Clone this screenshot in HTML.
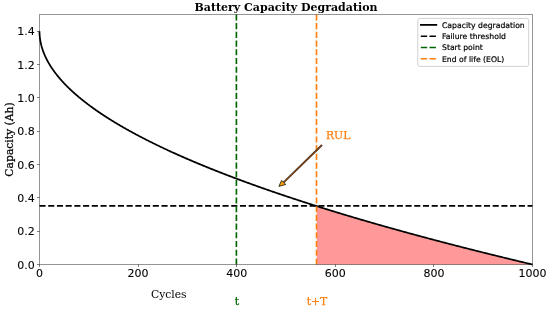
<!DOCTYPE html>
<html><head><meta charset="utf-8"><title>Battery Capacity Degradation</title><style>html,body{margin:0;padding:0;background:#fff;}
svg{display:block;}
.tk{font-family:"DejaVu Sans","Liberation Sans",sans-serif;font-size:11.0px;fill:#000;stroke:#000;stroke-width:0.08px;}
.lg{font-family:"DejaVu Sans","Liberation Sans",sans-serif;font-size:7.7px;fill:#000;stroke:#000;stroke-width:0.2px;}
.ttl{font-family:"DejaVu Serif","Liberation Serif",serif;font-weight:bold;font-size:11.0px;fill:#000;}
.lab{font-family:"DejaVu Serif","Liberation Serif",serif;font-size:10.75px;stroke-width:0.25px;}
</style></head><body>
<svg width="550" height="312" viewBox="0 0 550 312">
<rect width="550" height="312" fill="#fff"/>
<polygon points="316.81,264.50 316.81,206.17 317.89,206.51 318.97,206.85 320.05,207.18 321.13,207.52 322.20,207.86 323.28,208.20 324.36,208.53 325.44,208.87 326.52,209.20 327.60,209.54 328.68,209.87 329.75,210.20 330.83,210.54 331.91,210.87 332.99,211.20 334.07,211.53 335.15,211.86 336.22,212.19 337.30,212.52 338.38,212.84 339.46,213.17 340.54,213.50 341.62,213.83 342.69,214.15 343.77,214.48 344.85,214.80 345.93,215.12 347.01,215.45 348.09,215.77 349.17,216.09 350.24,216.42 351.32,216.74 352.40,217.06 353.48,217.38 354.56,217.70 355.64,218.02 356.71,218.33 357.79,218.65 358.87,218.97 359.95,219.29 361.03,219.60 362.11,219.92 363.19,220.23 364.26,220.55 365.34,220.86 366.42,221.18 367.50,221.49 368.58,221.80 369.66,222.11 370.73,222.43 371.81,222.74 372.89,223.05 373.97,223.36 375.05,223.67 376.13,223.98 377.20,224.28 378.28,224.59 379.36,224.90 380.44,225.21 381.52,225.51 382.60,225.82 383.68,226.13 384.75,226.43 385.83,226.74 386.91,227.04 387.99,227.34 389.07,227.65 390.15,227.95 391.22,228.25 392.30,228.55 393.38,228.86 394.46,229.16 395.54,229.46 396.62,229.76 397.70,230.06 398.77,230.36 399.85,230.65 400.93,230.95 402.01,231.25 403.09,231.55 404.17,231.85 405.24,232.14 406.32,232.44 407.40,232.73 408.48,233.03 409.56,233.32 410.64,233.62 411.71,233.91 412.79,234.21 413.87,234.50 414.95,234.79 416.03,235.08 417.11,235.37 418.19,235.67 419.26,235.96 420.34,236.25 421.42,236.54 422.50,236.83 423.58,237.12 424.66,237.41 425.73,237.69 426.81,237.98 427.89,238.27 428.97,238.56 430.05,238.84 431.13,239.13 432.21,239.42 433.28,239.70 434.36,239.99 435.44,240.27 436.52,240.56 437.60,240.84 438.68,241.13 439.75,241.41 440.83,241.69 441.91,241.98 442.99,242.26 444.07,242.54 445.15,242.82 446.23,243.10 447.30,243.38 448.38,243.66 449.46,243.94 450.54,244.22 451.62,244.50 452.70,244.78 453.77,245.06 454.85,245.34 455.93,245.62 457.01,245.89 458.09,246.17 459.17,246.45 460.24,246.72 461.32,247.00 462.40,247.28 463.48,247.55 464.56,247.83 465.64,248.10 466.72,248.38 467.79,248.65 468.87,248.92 469.95,249.20 471.03,249.47 472.11,249.74 473.19,250.01 474.26,250.29 475.34,250.56 476.42,250.83 477.50,251.10 478.58,251.37 479.66,251.64 480.74,251.91 481.81,252.18 482.89,252.45 483.97,252.72 485.05,252.99 486.13,253.26 487.21,253.52 488.28,253.79 489.36,254.06 490.44,254.33 491.52,254.59 492.60,254.86 493.68,255.12 494.75,255.39 495.83,255.66 496.91,255.92 497.99,256.19 499.07,256.45 500.15,256.71 501.23,256.98 502.30,257.24 503.38,257.50 504.46,257.77 505.54,258.03 506.62,258.29 507.70,258.55 508.77,258.82 509.85,259.08 510.93,259.34 512.01,259.60 513.09,259.86 514.17,260.12 515.25,260.38 516.32,260.64 517.40,260.90 518.48,261.16 519.56,261.42 520.64,261.68 521.72,261.93 522.79,262.19 523.87,262.45 524.95,262.71 526.03,262.96 527.11,263.22 528.19,263.48 529.26,263.73 530.34,263.99 531.42,264.24 532.50,264.50 532.50,264.50" fill="#ff9999" stroke="none"/>
<line x1="39.5" y1="205.87" x2="532.5" y2="205.87" stroke="#000" stroke-width="1.644" stroke-dasharray="6.084,2.631"/>
<polyline points="39.50,31.17 39.50,31.75 39.51,32.33 39.53,32.92 39.55,33.50 39.58,34.08 39.61,34.67 39.65,35.25 39.70,35.83 39.75,36.42 39.81,37.00 39.87,37.58 39.94,38.17 40.02,38.75 40.10,39.33 40.19,39.92 40.29,40.50 40.39,41.08 40.50,41.67 40.61,42.25 40.73,42.83 40.86,43.42 40.99,44.00 41.13,44.58 41.27,45.17 41.43,45.75 41.58,46.33 41.75,46.92 41.92,47.50 42.09,48.08 42.27,48.67 42.46,49.25 42.66,49.83 42.86,50.42 43.06,51.00 43.27,51.58 43.49,52.17 43.72,52.75 43.95,53.33 44.19,53.92 44.43,54.50 44.68,55.08 44.94,55.67 45.20,56.25 45.47,56.83 45.74,57.42 46.02,58.00 46.31,58.58 46.60,59.17 46.90,59.75 47.20,60.33 47.51,60.92 47.83,61.50 48.16,62.08 48.48,62.67 48.82,63.25 49.16,63.83 49.51,64.42 49.87,65.00 50.23,65.58 50.59,66.17 50.97,66.75 51.34,67.33 51.73,67.92 52.12,68.50 52.52,69.08 52.92,69.67 53.33,70.25 53.75,70.83 54.17,71.42 54.60,72.00 55.03,72.58 55.47,73.17 55.92,73.75 56.37,74.33 56.83,74.92 57.30,75.50 57.77,76.08 58.25,76.67 58.73,77.25 59.22,77.83 59.72,78.42 60.22,79.00 60.73,79.58 61.24,80.17 61.76,80.75 62.29,81.33 62.82,81.92 63.36,82.50 63.91,83.08 64.46,83.67 65.02,84.25 65.58,84.83 66.15,85.42 66.73,86.00 67.31,86.58 67.90,87.17 68.49,87.75 69.09,88.33 69.70,88.92 70.31,89.50 70.93,90.08 71.56,90.67 72.19,91.25 72.83,91.83 73.47,92.42 74.12,93.00 74.78,93.58 75.44,94.17 76.11,94.75 76.78,95.33 77.46,95.92 78.15,96.50 78.84,97.08 79.54,97.67 80.25,98.25 80.96,98.83 81.68,99.42 82.40,100.00 83.13,100.58 83.87,101.17 84.61,101.75 85.36,102.33 86.12,102.92 86.88,103.50 87.64,104.08 88.42,104.67 89.20,105.25 89.98,105.83 90.78,106.42 91.57,107.00 92.38,107.58 93.19,108.17 94.00,108.75 94.83,109.33 95.66,109.92 96.49,110.50 97.33,111.08 98.18,111.67 99.03,112.25 99.89,112.83 100.76,113.42 101.63,114.00 102.51,114.58 103.39,115.17 104.28,115.75 105.18,116.33 106.08,116.92 106.99,117.50 107.91,118.08 108.83,118.67 109.76,119.25 110.69,119.83 111.63,120.42 112.57,121.00 113.53,121.58 114.49,122.17 115.45,122.75 116.42,123.33 117.40,123.92 118.38,124.50 119.37,125.08 120.36,125.67 121.37,126.25 122.37,126.83 123.39,127.42 124.41,128.00 125.43,128.58 126.47,129.17 127.50,129.75 128.55,130.33 129.60,130.92 130.66,131.50 131.72,132.08 132.79,132.67 133.86,133.25 134.94,133.83 136.03,134.42 137.13,135.00 138.23,135.58 139.33,136.17 140.44,136.75 141.56,137.33 142.69,137.92 143.82,138.50 144.96,139.08 146.10,139.67 147.25,140.25 148.40,140.83 149.57,141.42 150.73,142.00 151.91,142.58 153.09,143.17 154.27,143.75 155.47,144.33 156.66,144.92 157.87,145.50 159.08,146.08 160.30,146.67 161.52,147.25 162.75,147.83 163.99,148.42 165.23,149.00 166.48,149.58 167.73,150.17 168.99,150.75 170.26,151.33 171.53,151.92 172.81,152.50 174.09,153.08 175.38,153.67 176.68,154.25 177.98,154.83 179.29,155.42 180.61,156.00 181.93,156.58 183.26,157.17 184.59,157.75 185.93,158.33 187.28,158.92 188.63,159.50 189.99,160.08 191.36,160.67 192.73,161.25 194.10,161.83 195.49,162.42 196.88,163.00 198.27,163.58 199.68,164.17 201.08,164.75 202.50,165.33 203.92,165.92 205.35,166.50 206.78,167.08 208.22,167.67 209.66,168.25 211.11,168.83 212.57,169.42 214.03,170.00 215.50,170.58 216.98,171.17 218.46,171.75 219.95,172.33 221.44,172.92 222.95,173.50 224.45,174.08 225.96,174.67 227.48,175.25 229.01,175.83 230.54,176.42 232.08,177.00 233.62,177.58 235.17,178.17 236.73,178.75 238.29,179.33 239.86,179.92 241.43,180.50 243.01,181.08 244.60,181.67 246.19,182.25 247.79,182.83 249.40,183.42 251.01,184.00 252.63,184.58 254.25,185.17 255.88,185.75 257.52,186.33 259.16,186.92 260.81,187.50 262.46,188.08 264.12,188.67 265.79,189.25 267.46,189.83 269.14,190.42 270.83,191.00 272.52,191.58 274.22,192.17 275.92,192.75 277.63,193.33 279.35,193.92 281.07,194.50 282.80,195.08 284.53,195.67 286.27,196.25 288.02,196.83 289.77,197.42 291.53,198.00 293.30,198.58 295.07,199.17 296.85,199.75 298.63,200.33 300.42,200.92 302.22,201.50 304.02,202.08 305.83,202.67 307.65,203.25 309.47,203.83 311.29,204.42 313.13,205.00 314.97,205.58 316.81,206.17 318.66,206.75 320.52,207.33 322.39,207.92 324.26,208.50 326.13,209.08 328.02,209.67 329.90,210.25 331.80,210.83 333.70,211.42 335.61,212.00 337.52,212.58 339.44,213.17 341.37,213.75 343.30,214.33 345.24,214.92 347.18,215.50 349.13,216.08 351.09,216.67 353.05,217.25 355.02,217.83 357.00,218.42 358.98,219.00 360.96,219.58 362.96,220.17 364.96,220.75 366.96,221.33 368.97,221.92 370.99,222.50 373.02,223.08 375.05,223.67 377.08,224.25 379.13,224.83 381.18,225.42 383.23,226.00 385.29,226.58 387.36,227.17 389.43,227.75 391.51,228.33 393.60,228.92 395.69,229.50 397.79,230.08 399.90,230.67 402.01,231.25 404.12,231.83 406.25,232.42 408.37,233.00 410.51,233.58 412.65,234.17 414.80,234.75 416.95,235.33 419.11,235.92 421.28,236.50 423.45,237.08 425.63,237.67 427.81,238.25 430.01,238.83 432.20,239.42 434.41,240.00 436.61,240.58 438.83,241.17 441.05,241.75 443.28,242.33 445.51,242.92 447.75,243.50 450.00,244.08 452.25,244.67 454.51,245.25 456.78,245.83 459.05,246.42 461.32,247.00 463.61,247.58 465.90,248.17 468.19,248.75 470.49,249.33 472.80,249.92 475.11,250.50 477.43,251.08 479.76,251.67 482.09,252.25 484.43,252.83 486.78,253.42 489.13,254.00 491.49,254.58 493.85,255.17 496.22,255.75 498.59,256.33 500.98,256.92 503.36,257.50 505.76,258.08 508.16,258.67 510.56,259.25 512.98,259.83 515.40,260.42 517.82,261.00 520.25,261.58 522.69,262.17 525.13,262.75 527.58,263.33 530.04,263.92 532.50,264.50" fill="none" stroke="#000" stroke-width="1.75" stroke-linejoin="round" stroke-linecap="butt"/>
<line x1="236.40" y1="264.5" x2="236.40" y2="14.5" stroke="#006400" stroke-width="1.644" stroke-dasharray="6.084,2.631"/>
<line x1="316.51" y1="264.5" x2="316.51" y2="14.5" stroke="#ff7f0e" stroke-width="1.644" stroke-dasharray="6.084,2.631"/>
<rect x="39.5" y="14.5" width="493.00" height="250.00" fill="none" stroke="rgba(0,0,0,0.416)" stroke-width="1.0"/>
<line x1="39.50" y1="264.5" x2="39.50" y2="267.0" stroke="rgba(0,0,0,0.5)" stroke-width="1.0"/>
<text x="39.50" y="277.10" text-anchor="middle" class="tk">0</text>
<line x1="138.50" y1="264.5" x2="138.50" y2="267.0" stroke="rgba(0,0,0,0.5)" stroke-width="1.0"/>
<text x="138.10" y="277.10" text-anchor="middle" class="tk">200</text>
<line x1="236.50" y1="264.5" x2="236.50" y2="267.0" stroke="rgba(0,0,0,0.5)" stroke-width="1.0"/>
<text x="236.70" y="277.10" text-anchor="middle" class="tk">400</text>
<line x1="335.50" y1="264.5" x2="335.50" y2="267.0" stroke="rgba(0,0,0,0.5)" stroke-width="1.0"/>
<text x="335.30" y="277.10" text-anchor="middle" class="tk">600</text>
<line x1="433.50" y1="264.5" x2="433.50" y2="267.0" stroke="rgba(0,0,0,0.5)" stroke-width="1.0"/>
<text x="433.90" y="277.10" text-anchor="middle" class="tk">800</text>
<line x1="532.50" y1="264.5" x2="532.50" y2="267.0" stroke="rgba(0,0,0,0.5)" stroke-width="1.0"/>
<text x="532.50" y="277.10" text-anchor="middle" class="tk">1000</text>
<line x1="37.0" y1="264.50" x2="39.5" y2="264.50" stroke="rgba(0,0,0,0.5)" stroke-width="1.0"/>
<text x="34.8" y="268.50" text-anchor="end" class="tk">0.0</text>
<line x1="37.0" y1="231.50" x2="39.5" y2="231.50" stroke="rgba(0,0,0,0.5)" stroke-width="1.0"/>
<text x="34.8" y="235.17" text-anchor="end" class="tk">0.2</text>
<line x1="37.0" y1="197.50" x2="39.5" y2="197.50" stroke="rgba(0,0,0,0.5)" stroke-width="1.0"/>
<text x="34.8" y="201.83" text-anchor="end" class="tk">0.4</text>
<line x1="37.0" y1="164.50" x2="39.5" y2="164.50" stroke="rgba(0,0,0,0.5)" stroke-width="1.0"/>
<text x="34.8" y="168.50" text-anchor="end" class="tk">0.6</text>
<line x1="37.0" y1="131.50" x2="39.5" y2="131.50" stroke="rgba(0,0,0,0.5)" stroke-width="1.0"/>
<text x="34.8" y="135.17" text-anchor="end" class="tk">0.8</text>
<line x1="37.0" y1="97.50" x2="39.5" y2="97.50" stroke="rgba(0,0,0,0.5)" stroke-width="1.0"/>
<text x="34.8" y="101.83" text-anchor="end" class="tk">1.0</text>
<line x1="37.0" y1="64.50" x2="39.5" y2="64.50" stroke="rgba(0,0,0,0.5)" stroke-width="1.0"/>
<text x="34.8" y="68.50" text-anchor="end" class="tk">1.2</text>
<line x1="37.0" y1="31.50" x2="39.5" y2="31.50" stroke="rgba(0,0,0,0.5)" stroke-width="1.0"/>
<text x="34.8" y="35.17" text-anchor="end" class="tk">1.4</text>
<line x1="322.0" y1="145.0" x2="283.6" y2="182.4" stroke="#3c2a20" stroke-width="1.9"/>
<line x1="321.6" y1="145.4" x2="283.6" y2="182.4" stroke="#c85a00" stroke-width="0.7"/>
<polygon points="278.9,186.4 281.5,180.4 285.8,184.4" fill="#ffa000" stroke="#111" stroke-width="0.8" stroke-linejoin="miter"/>
<text x="286.00" y="10.7" text-anchor="middle" class="ttl">Battery Capacity Degradation</text>
<text x="0" y="0" transform="translate(12.5,139.50) rotate(-90)" text-anchor="middle" class="lab" fill="#000" stroke="#000" stroke-width="0.1">Capacity (Ah)</text>
<text x="168.8" y="298.00" text-anchor="middle" class="lab" fill="#000">Cycles</text>
<text x="326.0" y="139.10" class="lab" fill="#ff7f0e" stroke="#ff7f0e">RUL</text>
<text x="236.80" y="305.40" text-anchor="middle" class="lab" fill="#006400" stroke="#006400">t</text>
<text x="316.91" y="305.40" text-anchor="middle" class="lab" fill="#ff7f0e" stroke="#ff7f0e">t+T</text>
<rect x="417.8" y="18.4" width="110.9" height="48.0" rx="2" ry="2" fill="#fff" fill-opacity="0.8" stroke="#ccc" stroke-width="0.9"/>
<line x1="420.0" y1="24.90" x2="437.2" y2="24.90" stroke="#000" stroke-width="1.75"/>
<text x="442.0" y="27.70" class="lg">Capacity degradation</text>
<line x1="420.8" y1="36.20" x2="437.2" y2="36.20" stroke="#000" stroke-width="1.644" stroke-dasharray="6.4,2.3"/>
<text x="442.0" y="39.00" class="lg">Failure threshold</text>
<line x1="420.8" y1="47.50" x2="437.2" y2="47.50" stroke="#006400" stroke-width="1.644" stroke-dasharray="6.4,2.3"/>
<text x="442.0" y="50.30" class="lg">Start point</text>
<line x1="420.8" y1="58.80" x2="437.2" y2="58.80" stroke="#ff7f0e" stroke-width="1.644" stroke-dasharray="6.4,2.3"/>
<text x="442.0" y="61.60" class="lg">End of life (EOL)</text>
</svg>
</body></html>
